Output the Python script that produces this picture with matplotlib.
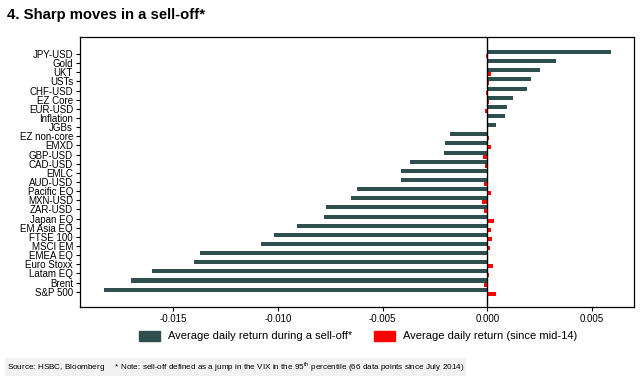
import numpy as np
import matplotlib
matplotlib.use("Agg")
import matplotlib.pyplot as plt
from matplotlib.patches import Patch

plt.rcParams['font.family'] = ['Liberation Sans', 'DejaVu Sans']
plt.rcParams['mathtext.fontset'] = 'custom'
plt.rcParams['mathtext.rm'] = 'Liberation Sans'

categories = ["JPY-USD", "Gold", "UKT", "USTs", "CHF-USD", "EZ Core", "EUR-USD",
              "Inflation", "JGBs", "EZ non-core", "EMXD", "GBP-USD", "CAD-USD",
              "EMLC", "AUD-USD", "Pacific EQ", "MXN-USD", "ZAR-USD", "Japan EQ",
              "EM Asia EQ", "FTSE 100", "MSCI EM", "EMEA EQ", "Euro Stoxx",
              "Latam EQ", "Brent", "S&P 500"]
selloff_return = [0.0059, 0.0033, 0.0025, 0.0021, 0.0019, 0.00125, 0.00093, 0.00084,
                  0.00044, -0.0018, -0.0020, -0.00205, -0.0037, -0.00414, -0.00414,
                  -0.0062, -0.0065, -0.0077, -0.0078, -0.0091, -0.0102, -0.0108,
                  -0.0137, -0.0140, -0.0160, -0.0170, -0.0183]
avg_return = [-0.00005, 0.00005, 0.0002, 0.00007, -0.00005, 0.00008, -0.00013, 0.00004,
              0.00005, 0.0001, 0.0002, -0.0002, -0.00013, 0.00002, -0.00015, 0.0002,
              -0.00024, -0.00016, 0.0003, 0.0002, 0.00024, 0.00013, 0.00005, 0.00027,
              0.0001, -0.00017, 0.0004]
xticks = [-0.015, -0.010, -0.005, 0.000, 0.005]
series_names = ["Average daily return during a sell-off*", "Average daily return (since mid-14)"]

W, H = 641, 386
fig = plt.figure(figsize=(W / 100, H / 100), dpi=100)
ax = fig.add_axes([80 / W, 1 - 307 / H, (634 - 80) / W, (307 - 37) / H])

dark = "#2F4F4F"
red = "#FF0000"
y = np.arange(len(categories))
h = 0.44
ax.barh(y - h / 2, selloff_return, height=h, color=dark, zorder=2)
ax.barh(y + h / 2, avg_return, height=h, color=red, zorder=2)
ax.axvline(0, color="black", lw=1.0, zorder=3)

ax.set_ylim(len(categories) - 1 + 1.68, -1.86)
ax.set_xlim(-0.01945, 0.00701)
ax.set_yticks(y)
ax.set_yticklabels(categories, fontsize=7)
ax.set_xticks(xticks)
ax.set_xticklabels(["%.3f" % v for v in xticks], fontsize=7)
ax.tick_params(axis="both", length=3, width=0.8, color="black", pad=2)
for s in ax.spines.values():
    s.set_linewidth(0.9)
    s.set_color("black")

fig.text(7 / W, 1 - 19 / H, "4. Sharp moves in a sell-off*", fontsize=10.7,
         fontweight="bold", va="baseline", ha="left")

handles = [Patch(color=dark), Patch(color=red)]
fig.legend(handles, series_names, loc="center", bbox_to_anchor=(358 / W, 1 - 336 / H),
           ncol=2, frameon=False, fontsize=8, handlelength=1.9, handleheight=1.0,
           handletextpad=0.7, columnspacing=2.0, borderpad=0)

fig.text(7 / W, 1 - 367 / H,
         "Source: HSBC, Bloomberg     * Note: sell-off defined as a jump in the VIX in the 95$^{\\mathrm{th}}$ percentile (66 data points since July 2014)",
         fontsize=5.85, va="center", ha="left",
         family=['Liberation Sans Narrow', 'Liberation Sans'],
         bbox=dict(facecolor="#F2F2F2", edgecolor="none", pad=1.5))

fig.savefig("out.png", dpi=100)
